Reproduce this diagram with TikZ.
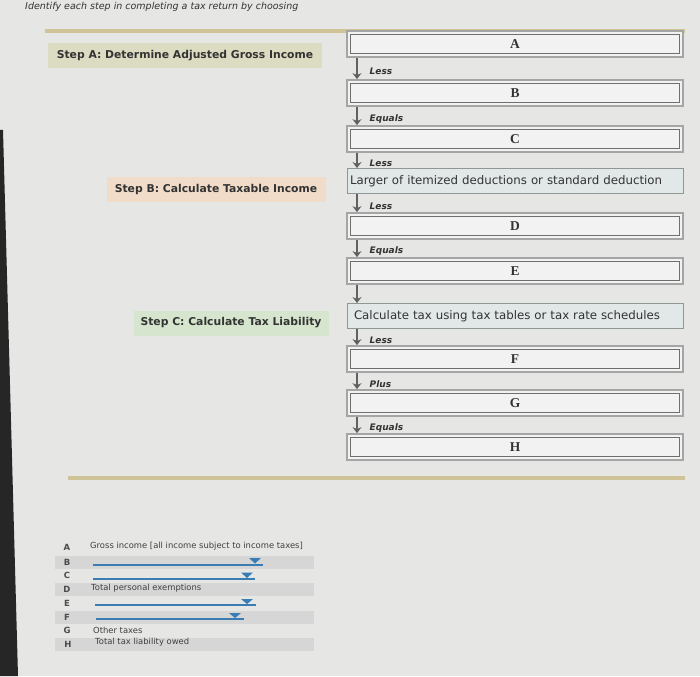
\documentclass[tikz,border=0pt]{standalone}
\usepackage{fontspec}
\setmainfont{DejaVu Sans}
\newfontfamily\serifb{Liberation Serif}
\usetikzlibrary{arrows.meta}
\definecolor{bgc}{HTML}{E6E6E4}
\definecolor{goldc}{HTML}{CFC498}
\definecolor{outerc}{HTML}{A4A6A6}
\definecolor{innerc}{HTML}{6E7070}
\definecolor{boxfill}{HTML}{F2F2F2}
\definecolor{txtfill}{HTML}{E2E7E8}
\definecolor{txtdraw}{HTML}{8E9696}
\definecolor{stepAc}{HTML}{DCDCC2}
\definecolor{stepBc}{HTML}{F0DCC8}
\definecolor{stepCc}{HTML}{D6E6CE}
\definecolor{bandc}{HTML}{D6D6D6}
\definecolor{ddc}{HTML}{3A7DB5}
\definecolor{arrc}{HTML}{606262}
\begin{document}
\begin{tikzpicture}[x=1pt,y=-1pt,
  ans/.style={draw=outerc, line width=1.8pt, fill=boxfill, minimum width=336pt, minimum height=26pt, inner sep=0pt,
    font=\serifb\bfseries\fontsize{13.5}{13.5}\selectfont, text=black!80},
  innerb/.style={draw=innerc, line width=1.1pt},
  txtbox/.style={draw=txtdraw, line width=0.9pt, fill=txtfill, minimum width=336pt, minimum height=25pt, inner sep=0pt,
    text width=330pt, align=left, font=\fontsize{11.8}{13}\selectfont, text=black!80},
  stepbox/.style={minimum height=25pt, inner sep=0pt, font=\bfseries\fontsize{10.8}{12}\selectfont, text=black!80},
  arr/.style={draw=arrc, line width=1.4pt, -{Stealth[length=6pt,width=9pt]}},
  lbl/.style={font=\bfseries\itshape\fontsize{9}{10}\selectfont, text=black!80, right, inner sep=0pt, xshift=12pt, yshift=-2pt},
  gold/.style={draw=goldc, line width=4.5pt},
  legl/.style={font=\bfseries\fontsize{8.5}{9}\selectfont, text=black!70, inner sep=0pt},
  legt/.style={font=\fontsize{8.4}{9}\selectfont, text=black!75, anchor=west, inner sep=0pt},
  band/.style={fill=bandc},
  ddline/.style={draw=ddc, line width=1.1pt},
  ddtri/.style={fill=ddc}
]
\useasboundingbox (0,0) rectangle (700,676);
\fill[bgc] (0,0) rectangle (700,676);
\fill[black!85] (0,130) -- (3,130) -- (18,676) -- (0,676) -- cycle;

% heading
\node[anchor=west, inner sep=0pt, font=\itshape\fontsize{9.5}{11}\selectfont, text=black!80] (head) at (25,7) {Identify each step in completing a tax return by choosing};

% gold rules
\draw[gold] (45,31) -- (685,31);
\draw[gold] (68,478) -- (685,478);

% step labels
\node[stepbox, fill=stepAc, minimum width=274pt] (SA) at (185,56) {Step A: Determine Adjusted Gross Income};
\node[stepbox, fill=stepBc, minimum width=219pt] (SB) at (216,190) {Step B: Calculate Taxable Income};
\node[stepbox, fill=stepCc, minimum width=195pt] (SC) at (231,323) {Step C: Calculate Tax Liability};

% right column
\node[ans] (A) at (515,44) {A};
\node[ans] (B) at (515,93) {B};
\node[ans] (C) at (515,139) {C};
\node[txtbox] (L) at (515,181) {Larger of itemized deductions or standard deduction};
\node[ans] (D) at (515,226) {D};
\node[ans] (E) at (515,271) {E};
\node[txtbox] (T) at (515,316) {\hspace{4pt}Calculate tax using tax tables or tax rate schedules};
\node[ans] (F) at (515,359) {F};
\node[ans] (G) at (515,403) {G};
\node[ans] (H) at (515,447) {H};
\foreach \n in {A,B,C,D,E,F,G,H}
  \draw[innerb] ([shift={(4.5,4.5)}]\n.north west) rectangle ([shift={(-4.5,-4.5)}]\n.south east);

% arrows
\draw[arr] ([xshift=-158pt]A.south) -- ([xshift=-158pt]B.north) node[lbl, pos=0.55] {Less};
\draw[arr] ([xshift=-158pt]B.south) -- ([xshift=-158pt]C.north) node[lbl, pos=0.55] {Equals};
\draw[arr] ([xshift=-158pt]C.south) -- ([xshift=-158pt]L.north) node[lbl, pos=0.55] {Less};
\draw[arr] ([xshift=-158pt]L.south) -- ([xshift=-158pt]D.north) node[lbl, pos=0.55] {Less};
\draw[arr] ([xshift=-158pt]D.south) -- ([xshift=-158pt]E.north) node[lbl, pos=0.55] {Equals};
\draw[arr] ([xshift=-158pt]E.south) -- ([xshift=-158pt]T.north);
\draw[arr] ([xshift=-158pt]T.south) -- ([xshift=-158pt]F.north) node[lbl, pos=0.55] {Less};
\draw[arr] ([xshift=-158pt]F.south) -- ([xshift=-158pt]G.north) node[lbl, pos=0.55] {Plus};
\draw[arr] ([xshift=-158pt]G.south) -- ([xshift=-158pt]H.north) node[lbl, pos=0.55] {Equals};

% legend
\foreach \yy in {562,589,617,644}
  \fill[band] (55,\yy-6.5) rectangle (314,\yy+6.5);
\node[legl] (la) at (67,547) {A};
\node[legl] (lb) at (67,562) {B};
\node[legl] (lc) at (67,575) {C};
\node[legl] (ld) at (67,589) {D};
\node[legl] (le) at (67,603) {E};
\node[legl] (lf) at (67,617) {F};
\node[legl] (lg) at (67,630) {G};
\node[legl] (lh) at (68,644) {H};
\node[legt] (ta) at (90,546) {Gross income [all income subject to income taxes]};
\node[legt] (td) at (91,588) {Total personal exemptions};
\node[legt] (tg) at (93,630) {Other taxes};
\node[legt] (th) at (95,642) {Total tax liability owed};
% dropdowns
\draw[ddline] (93,565) -- (263,565);
\fill[ddtri] (249,558) -- (261,558) -- (255,563.5) -- cycle;
\draw[ddline] (93,579) -- (255,579);
\fill[ddtri] (241,572.5) -- (253,572.5) -- (247,578) -- cycle;
\draw[ddline] (95,605) -- (256,605);
\fill[ddtri] (241,599) -- (253,599) -- (247,604) -- cycle;
\draw[ddline] (96,619) -- (244,619);
\fill[ddtri] (229,613) -- (241,613) -- (235,618) -- cycle;
\end{tikzpicture}
\end{document}
